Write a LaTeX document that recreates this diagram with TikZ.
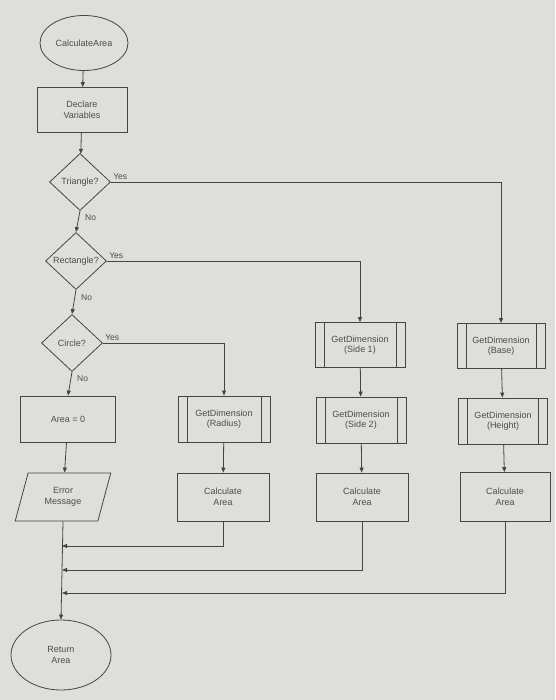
\documentclass[tikz,border=0pt]{standalone}
\usepackage{fontspec}
\setmainfont{Liberation Sans}
\usepackage{xcolor}
\usepackage{tikz}
\usetikzlibrary{arrows.meta,shapes.geometric}
\definecolor{ChartInk}{HTML}{454545}
\definecolor{ChartText}{HTML}{4C4C4C}
\definecolor{ChartPaper}{HTML}{DEDEDC}

\begin{document}
\begin{tikzpicture}[x=1pt,y=-1pt,>={Triangle[length=5pt,width=4pt]},
  every node/.style={font=\fontsize{9}{10.5}\selectfont,text=ChartText,align=center},
  line/.style={draw=ChartInk,line width=0.8pt},
  terminal/.style={line,ellipse,minimum width=88pt,minimum height=55pt,inner sep=0pt},
  process/.style={line,rectangle,minimum width=92pt,minimum height=46pt,inner sep=1pt},
  subproc/.style={process,path picture={
      \draw[ChartInk,line width=0.8pt]
        ([xshift=9pt]path picture bounding box.north west) -- ([xshift=9pt]path picture bounding box.south west)
        ([xshift=-9pt]path picture bounding box.north east) -- ([xshift=-9pt]path picture bounding box.south east);}},
  decision/.style={line,diamond,minimum width=61pt,minimum height=57pt,inner sep=0pt},
  io/.style={line,trapezium,trapezium left angle=70,trapezium right angle=110,
      trapezium stretches=true,minimum width=96pt,minimum height=48pt,inner sep=0pt},
  lbl/.style={font=\fontsize{8.5}{10}\selectfont,inner sep=2pt},
  nolbl/.style={lbl,right,pos=0.3,xshift=4pt}]
  \fill[ChartPaper] (0,0) rectangle (555,700);

  % main column
  \node[terminal] (start) at (84,43) {CalculateArea};
  \node[process,minimum width=90pt,minimum height=45pt] (declare) at (82,110) {Declare\\Variables};
  \node[decision] (tri) at (80,182) {Triangle?};
  \node[decision] (rect) at (76,261) {Rectangle?};
  \node[decision] (circ) at (72,343) {Circle?};
  \node[process,minimum width=95pt] (zero) at (68,419) {Area = 0};
  \node[io] (err) at (63,497) {Error\\Message};
  \node[terminal,minimum width=100pt,minimum height=70pt] (ret) at (61,655) {Return\\Area};

  % circle branch
  \node[subproc] (radius) at (224,419) {GetDimension\\(Radius)};
  \node[process,minimum height=48pt] (calcC) at (223,497) {Calculate\\Area};
  % rectangle branch
  \node[subproc,minimum width=90pt,minimum height=45pt] (side1) at (360,345) {GetDimension\\(Side 1)};
  \node[subproc,minimum width=90pt] (side2) at (361,420) {GetDimension\\(Side 2)};
  \node[process,minimum height=48pt] (calcR) at (362,497) {Calculate\\Area};
  % triangle branch
  \node[subproc,minimum width=88pt,minimum height=45pt] (base) at (501,346) {GetDimension\\(Base)};
  \node[subproc,minimum width=89pt] (height) at (503,421) {GetDimension\\(Height)};
  \node[process,minimum width=90pt,minimum height=49pt] (calcT) at (505,497) {Calculate\\Area};

  \coordinate (joinC) at (62,546);
  \coordinate (joinR) at (62,570);
  \coordinate (joinT) at (62,593);

  \draw[line,->] (start) -- (declare);
  \draw[line,->] (declare) -- (tri);
  \draw[line,->] (tri.south) -- node[nolbl] (trino) {No} (rect.north);
  \draw[line,->] (rect.south) -- node[nolbl] (rectno) {No} (circ.north);
  \draw[line,->] (circ.south) -- node[nolbl] (circno) {No} (zero.north);
  \draw[line,->] (zero) -- (err);
  \draw[line,->] (err.south) -- (ret.north);

  \draw[line,->] (tri.east) node[lbl,above right] (triyes) {Yes} -| (base.north);
  \draw[line,->] (rect.east) node[lbl,above right] (rectyes) {Yes} -| (side1.north);
  \draw[line,->] (circ.east) node[lbl,above right] (circyes) {Yes} -| (radius.north);

  \draw[line,->] (radius) -- (calcC);
  \draw[line,->] (side1) -- (side2);
  \draw[line,->] (side2) -- (calcR);
  \draw[line,->] (base) -- (height);
  \draw[line,->] (height) -- (calcT);

  \draw[line,->] (calcC.south) |- (joinC);
  \draw[line,->] (calcR.south) |- (joinR);
  \draw[line,->] (calcT.south) |- (joinT);
\end{tikzpicture}
\end{document}
